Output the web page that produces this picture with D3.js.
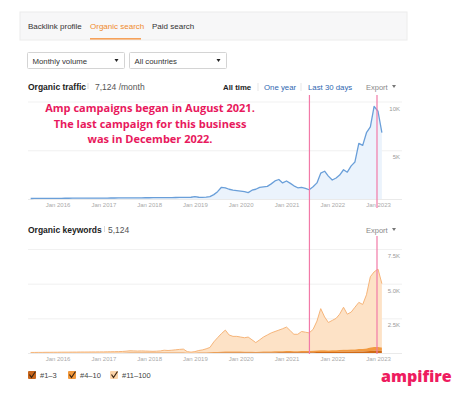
<!DOCTYPE html>
<html>
<head>
<meta charset="utf-8">
<script src="https://cdn.jsdelivr.net/npm/d3@7"></script>
<style>
  body { margin: 0; background: #fff; }
  svg { display: block; font-family: "Liberation Sans", Arial, sans-serif; }
</style>
</head>
<body>
<div id="chart"></div>
<script>
// data (monthly, Jun 2015 .. Feb 2023)
var firstMonth = new Date(2015, 5, 1);
var trafficValues = [
  50, 55, 55, 60, 60, 65, 65,
  70, 70, 75, 75, 80, 80, 85, 85, 90, 90, 95, 95,
  100, 100, 105, 105, 110, 115, 110, 120, 120, 125, 120, 130,
  130, 135, 140, 140, 145, 150, 150, 155, 160, 165, 170, 180,
  240, 180, 170, 190, 250, 450, 750, 1200, 1150, 1000, 900, 850,
  800, 750, 650, 900, 1000, 1200, 1250, 1300, 1550, 1850, 2000, 1650,
  1850, 1600, 1350, 1150, 1200, 1100, 950, 1250, 1650, 2650, 2850, 2350,
  1950, 2150, 2450, 3000, 2750, 3400, 3800, 5700, 5500, 6800, 7400, 9500,
  9000, 6800
];
var kwTop3 = [
  5, 5, 5, 5, 5, 5, 5,
  5, 5, 5, 5, 5, 5, 5, 5, 5, 5, 5, 5,
  5, 5, 5, 5, 5, 5, 10, 10, 10, 10, 10, 10,
  10, 10, 10, 10, 10, 10, 10, 10, 10, 10, 5, 5,
  5, 10, 10, 10, 15, 20, 25, 30, 35, 35, 35, 35,
  35, 35, 35, 30, 30, 35, 40, 40, 45, 45, 50, 50,
  55, 55, 50, 50, 55, 55, 55, 60, 65, 70, 70, 70,
  75, 80, 85, 90, 90, 95, 100, 110, 115, 125, 150, 170,
  180, 160
];
var kwTop10 = [
  5, 5, 5, 5, 5, 5, 5,
  5, 5, 5, 5, 5, 5, 10, 10, 10, 10, 10, 10,
  10, 10, 10, 10, 10, 15, 15, 20, 20, 20, 20, 20,
  20, 20, 20, 20, 25, 25, 25, 30, 30, 30, 15, 10,
  15, 20, 25, 30, 35, 45, 55, 65, 75, 70, 65, 65,
  65, 60, 60, 55, 50, 55, 60, 65, 70, 75, 80, 85,
  90, 85, 80, 85, 85, 85, 85, 95, 110, 130, 120, 115,
  120, 125, 135, 150, 140, 150, 160, 175, 180, 200, 240, 260,
  260, 230
];
var kwTop100 = [
  30, 30, 35, 35, 40, 40, 45,
  45, 50, 50, 50, 55, 55, 55, 55, 55, 60, 60, 65,
  65, 70, 75, 80, 85, 90, 105, 130, 120, 110, 120, 110,
  100, 90, 100, 120, 165, 145, 165, 190, 220, 240, 80, 45,
  80, 150, 185, 260, 350, 735, 1020, 1305, 1540, 1195, 1100, 1100,
  1050, 1005, 1055, 865, 670, 860, 1050, 1195, 1335, 1430, 1520, 1615,
  1725, 1460, 1220, 1215, 1410, 1360, 1310, 1545, 2125, 3000, 2410, 2015,
  2155, 2295, 2580, 3060, 2570, 2705, 3040, 3365, 3205, 3875, 5110, 5420,
  5610, 4610
];
var yearTicks = [2016, 2017, 2018, 2019, 2020, 2021, 2022, 2023];
var trafficTicks = [5000, 10000];
var kwTicks = [2500, 5000, 7500];
var campaignDates = [new Date(2021, 6, 3), new Date(2022, 11, 24)];
var noteLines = ["Amp campaigns began in August 2021.",
                 "The last campaign for this business",
                 "was in December 2022."];
var legendItems = [
  {label: "#1\u20133", color: "#c9661c"},
  {label: "#4\u201310", color: "#f39a3d"},
  {label: "#11\u2013100", color: "#fcd3a8"}
];

var months = d3.range(trafficValues.length).map(i => d3.timeMonth.offset(firstMonth, i));

var svg = d3.select("#chart").append("svg")
  .attr("width", 474)
  .attr("height", 397);

var x = d3.scaleTime()
  .domain([new Date(2016, 0, 1), new Date(2023, 0, 1)])
  .range([57.5, 378]);

var left = 28, right = 402;

// ---- tab bar + selectors
svg.append("rect").attr("x", 20).attr("y", 12).attr("width", 387).attr("height", 28)
  .attr("fill", "#f7f7f8").attr("stroke", "#ececec");
var tabs = [["Backlink profile", 28, "#333"], ["Organic search", 90, "#f08a2c"], ["Paid search", 152, "#333"]];
svg.selectAll(".tab").data(tabs).enter().append("text")
  .attr("x", d => d[1]).attr("y", 29)
  .attr("font-size", 8).attr("fill", d => d[2])
  .text(d => d[0]);
svg.append("rect").attr("x", 90).attr("y", 38).attr("width", 51).attr("height", 1.6).attr("fill", "#f6a15a");

var selects = [["Monthly volume", 27.5, 97], ["All countries", 129.5, 97]];
selects.forEach(function(s) {
  svg.append("rect").attr("x", s[1]).attr("y", 52.5).attr("width", s[2]).attr("height", 16)
    .attr("fill", "#fff").attr("stroke", "#d4d4d4").attr("rx", 1);
  svg.append("text").attr("x", s[1] + 5).attr("y", 63.5).attr("font-size", 7.8).attr("fill", "#333").text(s[0]);
  var ax = s[1] + s[2] - 8;
  svg.append("path").attr("d", "M" + (ax - 2) + ",59 L" + (ax + 2) + ",59 L" + ax + ",62 Z").attr("fill", "#222");
});

function header(y, title, value, sepX, valX) {
  svg.append("text").attr("x", left).attr("y", y).attr("font-size", 8.5)
    .attr("font-weight", "bold").attr("fill", "#222").text(title);
  svg.append("line").attr("x1", sepX).attr("x2", sepX).attr("y1", y - 7).attr("y2", y - 1)
    .attr("stroke", "#ccc").attr("stroke-width", 0.7);
  svg.append("text").attr("x", valX).attr("y", y).attr("font-size", 8.5).attr("fill", "#555").text(value);
  svg.append("text").attr("x", 366).attr("y", y).attr("font-size", 7.5).attr("fill", "#888").text("Export");
  svg.append("path").attr("d", "M392," + (y - 5) + " L396," + (y - 5) + " L394," + (y - 2) + " Z").attr("fill", "#777");
}

header(90, "Organic traffic", "7,124 /month", 88, 95);
header(233, "Organic keywords", "5,124", 104.5, 108);

svg.append("text").attr("x", 223).attr("y", 90).attr("font-size", 7.8).attr("font-weight", "bold").attr("fill", "#222").text("All time");
svg.append("text").attr("x", 264).attr("y", 90).attr("font-size", 7.8).attr("fill", "#2f67b1").text("One year");
svg.append("text").attr("x", 308).attr("y", 90).attr("font-size", 7.8).attr("fill", "#2f67b1").text("Last 30 days");
[258, 301].forEach(function(sx) {
  svg.append("line").attr("x1", sx).attr("x2", sx).attr("y1", 83).attr("y2", 91).attr("stroke", "#ddd").attr("stroke-width", 0.7);
});

// ---- shared helpers
function grid(yScale, ticks, fmt) {
  var g = svg.append("g");
  g.selectAll("line").data([0].concat(ticks)).enter().append("line")
    .attr("x1", left).attr("x2", right)
    .attr("y1", d => yScale(d) + 0.5).attr("y2", d => yScale(d) + 0.5)
    .attr("stroke", d => d === 0 ? "#e4e4e4" : "#eeeeee").attr("stroke-width", 0.8);
  g.selectAll("text").data(ticks).enter().append("text")
    .attr("x", 400).attr("y", d => yScale(d) + 9)
    .attr("text-anchor", "end").attr("font-size", 6).attr("fill", "#999")
    .text(fmt);
}

function xAxis(y) {
  var g = svg.append("g").attr("transform", "translate(0," + y + ")")
    .call(d3.axisBottom(x)
      .tickValues(yearTicks.map(yr => new Date(yr, 0, 1)))
      .tickFormat(d3.timeFormat("Jan %Y"))
      .tickSize(0).tickPadding(0));
  g.select(".domain").remove();
  g.selectAll("text").attr("font-size", 6).attr("fill", "#aaa").attr("font-family", "Liberation Sans, Arial, sans-serif");
}

// ---- organic traffic chart
var yT = d3.scaleLinear().domain([0, 10000]).range([199, 101.5]);
grid(yT, trafficTicks, d => (d / 1000) + "K");
xAxis(203);

svg.append("path").datum(trafficValues)
  .attr("fill", "#ebf3fc")
  .attr("d", d3.area().x((d, i) => x(months[i])).y0(yT(0)).y1(d => yT(d)));
svg.append("path").datum(trafficValues)
  .attr("fill", "none").attr("stroke", "#6a9fd9").attr("stroke-width", 1.3)
  .attr("stroke-linejoin", "round")
  .attr("d", d3.line().x((d, i) => x(months[i])).y(d => yT(d)));

// ---- organic keywords chart
var yK = d3.scaleLinear().domain([0, 7500]).range([353, 249]);
grid(yK, kwTicks, d => (d / 1000).toFixed(1) + "K");
xAxis(357);

var kwRows = months.map((m, i) => ({date: m, top3: kwTop3[i], top10: kwTop10[i], top100: kwTop100[i]}));
var stack = d3.stack().keys(["top3", "top10", "top100"]);
var layers = stack(kwRows);
var kwFill = ["#d06a17", "#f29a40", "#fde2c6"];
var kwArea = d3.area().x(d => x(d.data.date)).y0(d => yK(d[0])).y1(d => yK(d[1]));
svg.selectAll(".kw").data(layers.slice().reverse()).enter().append("path")
  .attr("fill", d => kwFill[d.index])
  .attr("d", kwArea);
svg.append("path").datum(layers[2])
  .attr("fill", "none").attr("stroke", "#f6b57a").attr("stroke-width", 1)
  .attr("d", d3.line().x(d => x(d.data.date)).y(d => yK(d[1])));

// ---- campaign markers
svg.append("line").attr("x1", x(campaignDates[0])).attr("x2", x(campaignDates[0]))
  .attr("y1", 95).attr("y2", 354).attr("stroke", "#f27aa8").attr("stroke-width", 1.2);
[[95, 208], [236, 354]].forEach(function(seg) {
  svg.append("line").attr("x1", x(campaignDates[1])).attr("x2", x(campaignDates[1]))
    .attr("y1", seg[0]).attr("y2", seg[1]).attr("stroke", "#f27aa8").attr("stroke-width", 1.2);
});

// ---- annotation
svg.append("text")
  .attr("text-anchor", "middle")
  .attr("font-family", "Open Sans, sans-serif").attr("font-weight", "bold")
  .attr("font-size", 11).attr("fill", "#e8195d")
  .selectAll("tspan").data(noteLines).enter().append("tspan")
  .attr("x", 150).attr("y", (d, i) => 112 + i * 15.5)
  .text(d => d);

// ---- legend
var lg = svg.selectAll(".lg").data(legendItems).enter().append("g")
  .attr("transform", (d, i) => "translate(" + [28, 68, 110][i] + ",371)");
lg.append("rect").attr("width", 8).attr("height", 8).attr("rx", 1).attr("fill", d => d.color);
lg.append("path").attr("d", "M1.5,3.5 L3.5,6.5 L7.5,0.5").attr("fill", "none")
  .attr("stroke", "#3a2410").attr("stroke-width", 1.2);
lg.append("text").attr("x", 12).attr("y", 7).attr("font-size", 7.5).attr("fill", "#444").text(d => d.label);

// ---- logo
svg.append("text").attr("x", 381).attr("y", 382)
  .attr("font-family", "Open Sans, sans-serif").attr("font-weight", 800)
  .attr("font-size", 16).attr("fill", "#ee1c5f")
  .text("ampifire");
</script>
</body>
</html>
